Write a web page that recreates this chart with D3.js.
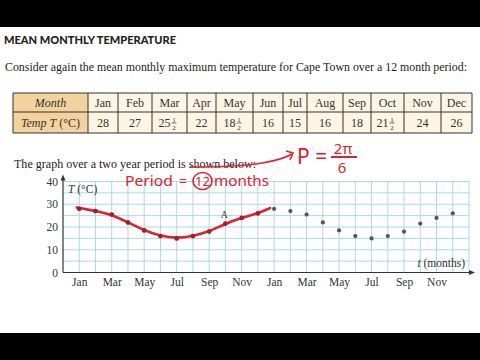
<!DOCTYPE html>
<html><head><meta charset="utf-8">
<script src="https://cdn.jsdelivr.net/npm/d3@7"></script>
<style>html,body{margin:0;padding:0;background:#fff;}svg{display:block;}</style>
</head><body>
<script>
const months = ["Jan","Feb","Mar","Apr","May","Jun","Jul","Aug","Sep","Oct","Nov","Dec"];
const temps = [28,27,25.5,22,18.5,16,15,16,18,21.5,24,26];
const yTicks = [0,10,20,30,40];
const xTickLabels = ["Jan","Mar","May","Jul","Sep","Nov","Jan","Mar","May","Jul","Sep","Nov"];
const titleText = "MEAN MONTHLY TEMPERATURE";
const introText = "Consider again the mean monthly maximum temperature for Cape Town over a 12 month period:";
const graphText = "The graph over a two year period is shown below:";

const W = 480, H = 360;
const svg = d3.select("body").append("svg").attr("width", W).attr("height", H);
svg.append("rect").attr("width", W).attr("height", H).attr("fill", "#fff");
svg.append("rect").attr("x",0).attr("y",0).attr("width",W).attr("height",27).attr("fill","#000");
svg.append("rect").attr("x",0).attr("y",333).attr("width",W).attr("height",27).attr("fill","#000");

const serif = "'Liberation Serif','DejaVu Serif',serif";
svg.append("text").attr("x",4).attr("y",44).attr("font-family","Lato, 'Open Sans', sans-serif")
  .attr("font-weight","900").attr("font-size",11.5).attr("fill","#222").attr("textLength",172).attr("lengthAdjust","spacingAndGlyphs").text(titleText);
svg.append("text").attr("x",5).attr("y",71).attr("font-family",serif).attr("font-size",12)
  .attr("fill","#222").attr("textLength",462).attr("lengthAdjust","spacingAndGlyphs").text(introText);

// ---- table ----
const colEdges = [13,88,118,152,187,216,253,283,307,343,371,404,441,472];
const rowEdges = [93,112,133];
const tg = svg.append("g");
tg.append("rect").attr("x",colEdges[0]).attr("y",rowEdges[0]).attr("width",colEdges[1]-colEdges[0]).attr("height",rowEdges[2]-rowEdges[0]).attr("fill","#f4d29d");
tg.append("rect").attr("x",colEdges[1]).attr("y",rowEdges[0]).attr("width",colEdges[13]-colEdges[1]).attr("height",rowEdges[2]-rowEdges[0]).attr("fill","#fdf5e4");
rowEdges.forEach(y => tg.append("line").attr("x1",colEdges[0]).attr("x2",colEdges[13]).attr("y1",y).attr("y2",y).attr("stroke","#333").attr("stroke-width",1));
colEdges.forEach(x => tg.append("line").attr("x1",x).attr("x2",x).attr("y1",rowEdges[0]).attr("y2",rowEdges[2]).attr("stroke","#333").attr("stroke-width",1));
const midX = i => (colEdges[i]+colEdges[i+1])/2;
tg.append("text").attr("x",midX(0)).attr("y",106.5).attr("text-anchor","middle").attr("font-family",serif).attr("font-style","italic").attr("font-size",12).attr("fill","#333").text("Month");
const tlab = tg.append("text").attr("x",midX(0)).attr("y",127).attr("text-anchor","middle").attr("font-family",serif).attr("font-size",12).attr("fill","#333");
tlab.append("tspan").attr("font-style","italic").text("Temp T");
tlab.append("tspan").text(" (°C)");
months.forEach((m,i) => {
  tg.append("text").attr("x",midX(i+1)).attr("y",106.5).attr("text-anchor","middle").attr("font-family",serif).attr("font-size",12).attr("fill","#333").text(m);
  const v = temps[i], whole = Math.floor(v), frac = v - whole;
  if (frac === 0) {
    tg.append("text").attr("x",midX(i+1)).attr("y",127).attr("text-anchor","middle").attr("font-family",serif).attr("font-size",12).attr("fill","#333").text(whole);
  } else {
    const cx = midX(i+1);
    tg.append("text").attr("x",cx+1).attr("y",127).attr("text-anchor","end").attr("font-family",serif).attr("font-size",12).attr("fill","#333").text(whole);
    tg.append("text").attr("x",cx+4.5).attr("y",121.5).attr("text-anchor","middle").attr("font-family",serif).attr("font-size",7).attr("fill","#333").text("1");
    tg.append("line").attr("x1",cx+2).attr("x2",cx+7).attr("y1",123).attr("y2",123).attr("stroke","#333").attr("stroke-width",0.7);
    tg.append("text").attr("x",cx+4.5).attr("y",129.5).attr("text-anchor","middle").attr("font-family",serif).attr("font-size",7).attr("fill","#333").text("2");
  }
});

// ---- graph ----
svg.append("text").attr("x",14).attr("y",168).attr("font-family",serif).attr("font-size",12).attr("fill","#222").attr("textLength",242).attr("lengthAdjust","spacingAndGlyphs").text(graphText);

const x = d3.scaleLinear().domain([-1,24]).range([63,469]);
const y = d3.scaleLinear().domain([0,40]).range([272.5,181.5]);
const grid = svg.append("g");
d3.range(0,25).forEach(t => grid.append("line").attr("x1",x(t)).attr("x2",x(t)).attr("y1",y(0)).attr("y2",y(40)).attr("stroke","#a9d9ea").attr("stroke-width",1));
d3.range(5,41,5).forEach(v => grid.append("line").attr("x1",x(-1)).attr("x2",x(24)).attr("y1",y(v)).attr("y2",y(v)).attr("stroke","#a9d9ea").attr("stroke-width",1));

const yAxis = svg.append("g").attr("transform",`translate(${x(-1)},0)`).call(d3.axisLeft(y).tickValues(yTicks).tickSize(0).tickPadding(5));
yAxis.select(".domain").remove();
yAxis.selectAll("text").attr("font-family",serif).attr("font-size",11.5).attr("fill","#333");
const xAxis = svg.append("g").attr("transform",`translate(0,${y(0)})`).call(d3.axisBottom(x).tickValues(d3.range(0,24,2)).tickFormat((d,i)=>xTickLabels[i]).tickSize(0).tickPadding(5));
xAxis.select(".domain").remove();
xAxis.selectAll("text").attr("font-family",serif).attr("font-size",11.5).attr("fill","#333");

svg.append("line").attr("x1",x(-1)).attr("x2",x(-1)).attr("y1",y(0)).attr("y2",y(40)-4).attr("stroke","#333").attr("stroke-width",1.2);
svg.append("path").attr("d",`M${x(-1)-2.5},${y(40)-1} L${x(-1)},${y(40)-7} L${x(-1)+2.5},${y(40)-1} Z`).attr("fill","#333");
svg.append("line").attr("x1",x(-1)).attr("x2",x(24)+1).attr("y1",y(0)).attr("y2",y(0)).attr("stroke","#333").attr("stroke-width",1.2);
svg.append("path").attr("d",`M${x(24)},${y(0)-2.5} L${x(24)+6},${y(0)} L${x(24)},${y(0)+2.5} Z`).attr("fill","#333");

const tl = svg.append("text").attr("x",68).attr("y",193).attr("font-family",serif).attr("font-size",11.5).attr("fill","#333");
tl.append("tspan").attr("font-style","italic").text("T");
tl.append("tspan").text(" (°C)");
const ml = svg.append("text").attr("x",465).attr("y",267).attr("text-anchor","end").attr("font-family",serif).attr("font-size",11.5).attr("fill","#333");
ml.append("tspan").attr("font-style","italic").text("t");
ml.append("tspan").text(" (months)");

const pts = d3.range(24).map(t => ({t, v: temps[t % 12]}));
svg.append("g").selectAll("circle").data(pts).join("circle")
  .attr("cx",d=>x(d.t)).attr("cy",d=>y(d.v)).attr("r",2.1).attr("fill","#555");
svg.append("text").attr("x",x(9)-1).attr("y",y(temps[9])-6).attr("text-anchor","middle").attr("font-family",serif).attr("font-size",10).attr("fill","#444").text("A");

// ---- red handwritten annotations ----
const red = "#e3202b";
const curvePts = d3.range(13).map(t => ({t: t===12 ? 11.75 : t, v: t===12 ? 28.3 : temps[t]}));
curvePts[0] = {t: -0.15, v: 28.6};
svg.append("path").datum(curvePts).attr("d", d3.line().x(d=>x(d.t)).y(d=>y(d.v)).curve(d3.curveBasis))
  .attr("fill","none").attr("stroke",red).attr("stroke-width",2.6).attr("stroke-linecap","round");
svg.append("g").selectAll("circle").data(pts.slice(0,12)).join("circle")
  .attr("cx",d=>x(d.t)).attr("cy",d=>y(d.v)).attr("r",2.3).attr("fill","#a81c28");

const hand = "'Noto Sans','DejaVu Sans',sans-serif";
const hy = 186;
svg.append("text").attr("x",125).attr("y",hy).attr("font-family",hand).attr("font-size",14).attr("fill",red).attr("textLength",48).attr("lengthAdjust","spacingAndGlyphs").text("Period");
svg.append("text").attr("x",183).attr("y",hy).attr("text-anchor","middle").attr("font-family",hand).attr("font-size",14).attr("fill",red).text("=");
svg.append("text").attr("x",202.5).attr("y",hy).attr("text-anchor","middle").attr("font-family",hand).attr("font-size",13).attr("fill",red).text("12");
svg.append("text").attr("x",214).attr("y",hy).attr("font-family",hand).attr("font-size",14).attr("fill",red).attr("textLength",55).attr("lengthAdjust","spacingAndGlyphs").text("months");
svg.append("ellipse").attr("cx",202.5).attr("cy",hy-5).attr("rx",9.5).attr("ry",8.5).attr("fill","none").attr("stroke",red).attr("stroke-width",1.6);
svg.append("path").attr("d","M190,167 C215,167 245,166 262,163 C275,161 285,158 292,154")
  .attr("fill","none").attr("stroke",red).attr("stroke-width",1.6);
svg.append("path").attr("d","M286,151 L293,153 L290,160").attr("fill","none").attr("stroke",red).attr("stroke-width",1.6);
svg.append("text").attr("x",297).attr("y",164).attr("font-family",hand).attr("font-size",21).attr("fill",red).text("P =");
svg.append("text").attr("x",343).attr("y",154).attr("text-anchor","middle").attr("font-family",hand).attr("font-size",15).attr("fill",red).text("2π");
svg.append("line").attr("x1",331).attr("x2",357).attr("y1",157).attr("y2",157).attr("stroke",red).attr("stroke-width",2);
svg.append("text").attr("x",342).attr("y",173).attr("text-anchor","middle").attr("font-family",hand).attr("font-size",15).attr("fill",red).text("6");
</script>
</body></html>
